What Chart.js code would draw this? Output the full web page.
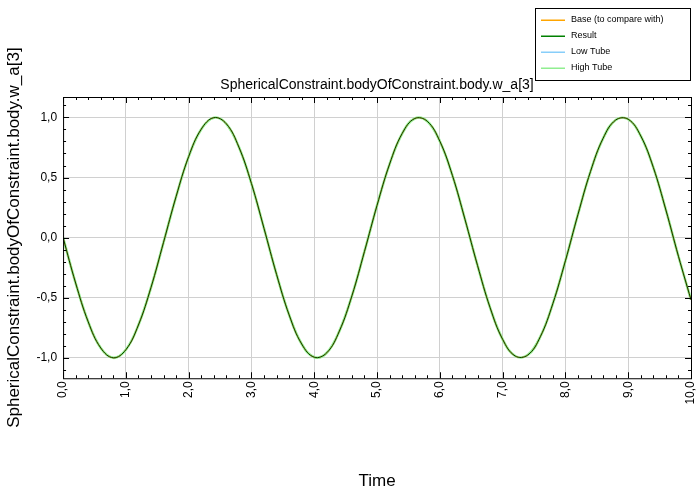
<!DOCTYPE html>
<html><head><meta charset="utf-8">
<script src="https://cdn.jsdelivr.net/npm/chart.js@4/dist/chart.umd.min.js"></script>
<style>html,body{margin:0;background:#fff}#c{display:block}</style></head>
<body><canvas id="c" width="700" height="500"></canvas>
<script>
const times=[0,0.2,0.4,0.6,0.8,1.0,1.2,1.4,1.6,1.8,2.0,2.2,2.4,2.6,2.8,3.0,3.2,3.4,3.6,3.8,4.0,4.2,4.4,4.6,4.8,5.0,5.2,5.4,5.6,5.8,6.0,6.2,6.4,6.6,6.8,7.0,7.2,7.4,7.6,7.8,8.0,8.2,8.4,8.6,8.8,9.0,9.2,9.4,9.6,9.8,10.0];
const values=[0,-0.378,-0.700,-0.918,-1.000,-0.933,-0.727,-0.415,-0.039,0.342,0.674,0.902,0.998,0.947,0.753,0.450,0.077,-0.306,-0.643,-0.885,-0.995,-0.958,-0.778,-0.484,-0.115,0.268,0.612,0.866,0.991,0.968,0.802,0.518,0.153,-0.231,-0.582,-0.846,-0.985,-0.977,-0.825,-0.549,-0.193,0.193,0.551,0.826,0.978,0.985,0.846,0.584,0.230,-0.155,-0.517];
const seriesNames=['Base (to compare with)','Result','Low Tube','High Tube'];
const seriesColors=['#ffa500','#008000','#87cefa','#90ee90'];
const title='SphericalConstraint.bodyOfConstraint.body.w_a[3]';
const pts=times.map((t,i)=>({x:t,y:values[i]}));
const fmt=v=>v.toFixed(1).replace('.',',');
const FONT='"Liberation Sans", Arial, sans-serif';
const order=[0,2,3,1];
const datasets=order.map(i=>({label:seriesNames[i],data:pts,borderColor:i===1?'#004000':seriesColors[i],borderWidth:i===1?1:(i===3?2.6:1),pointRadius:0,tension:0.4,fill:false,order:i===1?0:1}));
const extra={id:'extra',afterDraw(c){const x=c.ctx,a=c.chartArea;x.save();
x.strokeStyle='#000';x.lineWidth=1;x.strokeRect(a.left+0.5,a.top+0.5,a.right-a.left,a.bottom-a.top);
const xs=c.scales.x,ys=c.scales.y;
for(let v=0;v<=10.001;v+=0.2){const px=Math.round(xs.getPixelForValue(v))+0.5;const L=Math.abs(v-Math.round(v))<1e-6?6:3;x.beginPath();x.moveTo(px,a.bottom);x.lineTo(px,a.bottom-L);x.moveTo(px,a.top);x.lineTo(px,a.top+L);x.stroke();}
for(let v=-1.1;v<=1.101;v+=0.1){const py=Math.round(ys.getPixelForValue(v))+0.5;const L=Math.abs(v*2-Math.round(v*2))<1e-6?6:3;x.beginPath();x.moveTo(a.left,py);x.lineTo(a.left+L,py);x.moveTo(a.right,py);x.lineTo(a.right-L,py);x.stroke();}
x.fillStyle='#fff';x.fillRect(535,8,155,72);x.strokeStyle='#000';x.strokeRect(535.5,8.5,155,72);
x.font='9px '+FONT;x.textBaseline='middle';x.textAlign='left';
seriesNames.forEach((n,i)=>{const y=20+i*16;x.fillStyle=seriesColors[i];x.fillRect(541,y-0.5,24,1.5);x.fillStyle='#000';x.fillText(n,571,y);});
x.font='14px '+FONT;x.textAlign='center';x.textBaseline='alphabetic';x.fillStyle='#000';x.fillText(title,(a.left+a.right)/2,89);
x.restore();}};
new Chart(document.getElementById('c'),{type:'line',data:{datasets},plugins:[extra],
options:{responsive:false,animation:false,layout:{padding:{top:97,right:9,left:0,bottom:4}},
plugins:{legend:{display:false},tooltip:{enabled:false}},
scales:{x:{type:'linear',min:0,max:10,afterFit:s=>{s.paddingRight=0;s.paddingLeft=0;},ticks:{stepSize:1,minRotation:90,maxRotation:90,color:'#000',font:{size:12,family:FONT},callback:v=>fmt(v)},grid:{color:'#d0d0d0',drawTicks:false},border:{display:false},
title:{display:true,text:'Time',color:'#000',font:{size:17,family:FONT},padding:{top:64}}},
y:{min:-1.17,max:1.17,afterBuildTicks:s=>{s.ticks=[-1,-0.5,0,0.5,1].map(v=>({value:v}));},ticks:{color:'#000',font:{size:12,family:FONT},callback:v=>fmt(v),padding:6},grid:{color:'#d0d0d0',drawTicks:false},border:{display:false},
title:{display:true,text:title,color:'#000',font:{size:17,family:FONT},padding:{bottom:6}}}}}});
</script></body></html>
